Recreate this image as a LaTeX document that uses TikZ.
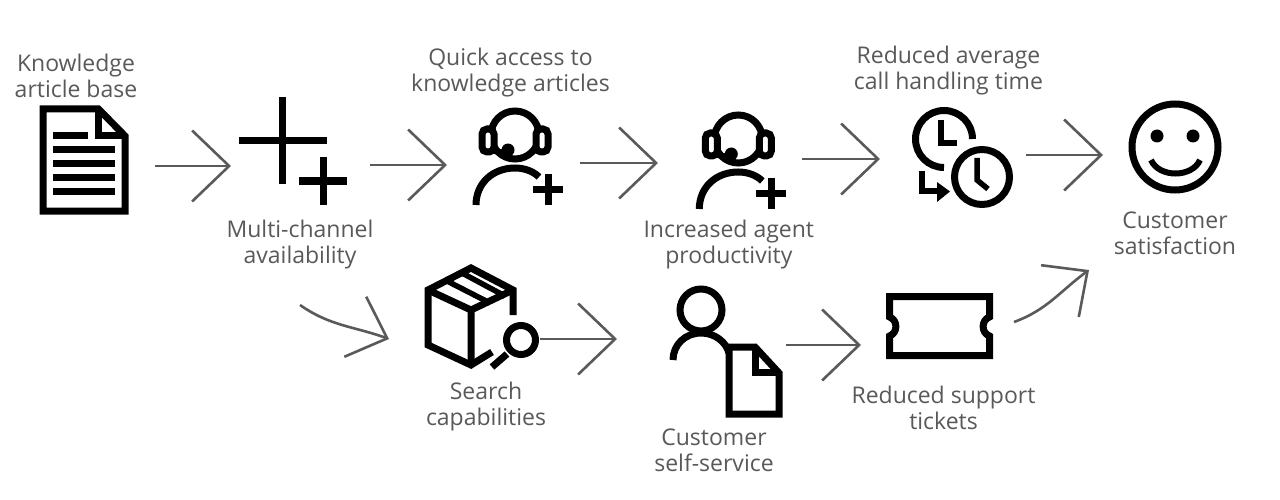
\documentclass[tikz,border=0pt]{standalone}
\usepackage{fontspec}
\setmainfont{Open Sans}
\usetikzlibrary{arrows.meta,positioning}

\definecolor{labelgray}{HTML}{595959}
\definecolor{flowgray}{HTML}{5A5A5A}

\tikzset{
  iconbox/.style={inner sep=0pt,outer sep=0pt,minimum width=#1},
  caption/.style={text=labelgray,align=center,inner sep=0pt,font=\fontsize{23}{26}\selectfont},
  flow/.style={draw=flowgray,line width=2.6pt,-{Straight Barb[length=37pt,width=71pt]}},
  bentflow/.style={draw=flowgray,line width=2.6pt,-{Straight Barb[length=34pt,width=64pt]}},
  glyph/.style={draw=black,line width=7pt,line cap=butt,line join=miter},
  agent/.pic={
    \draw[glyph] (515,135) circle[radius=24];
    \draw[glyph,fill=white,rounded corners=5pt] (482,129) rectangle (494,152);
    \draw[glyph,fill=white,rounded corners=5pt] (536,129) rectangle (548,152);
    \draw[glyph,line width=5pt] (492,152) -- (508,152);
    \fill (508,150) circle[radius=6.5];
    \draw[glyph] (476,205) .. controls (476,183) and (493,168) .. (515,168)
      .. controls (524,168) and (533,171) .. (539,177);
    \draw[glyph] (548,174) -- (548,205) (533,189) -- (563,189);
  }
}

\begin{document}
\begin{tikzpicture}[x=1pt,y=-1pt]
    \useasboundingbox (0,0) rectangle (1280,500);
    \fill[white] (0,0) rectangle (1280,500);

    % icon boxes
    \node [iconbox=88pt,minimum height=108pt] (docicon) at (84,160) {};
    \node [iconbox=108pt,minimum height=108pt] (plusicon) at (293,151) {};
    \node [iconbox=87pt,minimum height=97pt] (agenta) at (519.5,156.5) {};
    \node [iconbox=87pt,minimum height=97pt] (agentb) at (742.8,160.5) {};
    \node [iconbox=101pt,minimum height=100pt] (clockicon) at (962.5,158) {};
    \node [iconbox=92pt,minimum height=92pt] (smileicon) at (1175,147) {};
    \node [iconbox=114pt,minimum height=103pt] (boxicon) at (482,317) {};
    \node [iconbox=112pt,minimum height=131pt] (personicon) at (726,351.5) {};
    \node [iconbox=107pt,minimum height=66pt] (ticketicon) at (939.5,326) {};

    % labels
    \node [caption,above=8pt of docicon,xshift=-8pt] (doclabel) {Knowledge\\article base};
    \node [caption,below=14.5pt of plusicon,xshift=7pt] (pluslabel) {Multi-channel\\availability};
    \node [caption,above=11pt of agenta,xshift=-9pt] (agentalabel) {Quick access to\\knowledge articles};
    \node [caption,below=11pt of agentb,xshift=-14pt] (agentblabel) {Increased agent\\productivity};
    \node [caption,above=13pt of clockicon,xshift=-14pt] (clocklabel) {Reduced average\\call handling time};
    \node [caption,below=19pt of smileicon] (smilelabel) {Customer\\satisfaction};
    \node [caption,below=13pt of boxicon,xshift=4pt] (boxlabel) {Search\\capabilities};
    \node [caption,below=12pt of personicon,xshift=-12pt] (personlabel) {Customer\\self-service};
    \node [caption,below=27pt of ticketicon,xshift=4pt] (ticketlabel) {Reduced support\\tickets};

    % document
    \draw[glyph] (43,109) -- (98.5,109) -- (125,136) -- (125,211) -- (43,211) -- cycle;
    \draw[glyph] (98.5,109) -- (98.5,136) -- (125,136);
    \draw[glyph] (53,136) -- (88,136);
    \foreach \liney in {150,163.5,177.5,191}
      \draw[glyph] (53,\liney) -- (115,\liney);

    % plus signs
    \draw[glyph] (282.7,97) -- (282.7,184) (239,141) -- (327,141);
    \draw[glyph] (323,157) -- (323,205) (299,181) -- (347,181);

    % agents
    \pic at (0,0) {agent};
    \pic at (223.3,4) {agent};

    % clocks
    \draw[glyph] (972.5,139) arc (0:-270:28.5);
    \draw[glyph,line width=6pt] (941,120) -- (941,143) -- (957,143);
    \draw[glyph] (982,177) circle[radius=27.5];
    \draw[glyph,line width=5.5pt] (977,158) -- (977,180) -- (988,189);
    \draw[glyph,line width=5.5pt] (922,171) -- (922,191) -- (940,191);
    \fill (937,182) -- (950,191.5) -- (937,202) -- cycle;

    % smiley
    \draw[glyph] (1175,147) circle[radius=43];
    \fill (1157,136) circle[radius=6.5] (1193,136) circle[radius=6.5];
    \draw[glyph,line width=6pt] (1151,160) .. controls (1159,178) and (1192,178) .. (1200,160);

    % parcel and lens
    \draw[glyph] (513,315) -- (513,290) -- (471,268) -- (428,290) -- (428,345) -- (471,365) -- (492,352);
    \draw[glyph] (428,290) -- (471,310) -- (513,290) (471,310) -- (471,365);
    \draw[glyph,line width=5.5pt] (447,281) -- (490,303) (462,273) -- (505,296);
    \draw[glyph] (521,340) circle[radius=14.5];
    \draw[glyph] (507,354) -- (492,367);

    % person with sheet
    \draw[glyph] (701,310) circle[radius=21];
    \draw[glyph] (673,360) .. controls (673,345) and (685,333) .. (701,333)
      .. controls (715,333) and (726,342) .. (729,353);
    \draw[glyph,fill=white] (729,347) -- (755,347) -- (779,373) -- (779,414) -- (729,414) -- cycle;
    \draw[glyph] (755,347) -- (755,372) -- (779,372);

    % ticket
    \draw[glyph] (889.5,296.5) -- (989.5,296.5) -- (989.5,317)
      .. controls (981,320) and (981,333) .. (989.5,336) -- (989.5,355.5) -- (889.5,355.5) -- (889.5,336)
      .. controls (898,333) and (898,320) .. (889.5,317) -- cycle;

    % connectors
    \draw[flow] ([shift={(27,6)}]docicon.east) -- ([shift={(-8,15)}]plusicon.west);
    \draw[flow] ([shift={(23,14)}]plusicon.east) -- ([shift={(-29,8.5)}]agenta.west);
    \draw[flow] ([shift={(17,6.5)}]agenta.east) -- ([shift={(-41.3,2.5)}]agentb.west);
    \draw[flow] ([shift={(15.7,-1.5)}]agentb.east) -- ([shift={(-32,1)}]clockicon.west);
    \draw[flow] ([shift={(13,-3)}]clockicon.east) -- ([shift={(-26,8)}]smileicon.west);
    \draw[bentflow] ([shift={(7,100)}]plusicon.south) to[out=-35,in=160] ([shift={(-36,22)}]boxicon.west);
    \draw[flow] ([shift={(1,22)}]boxicon.east) -- ([shift={(-53,-12.5)}]personicon.west);
    \draw[flow] ([shift={(4,-6.5)}]personicon.east) -- ([shift={(-25,19)}]ticketicon.west);
    \draw[bentflow] ([shift={(21,-4)}]ticketicon.east) to[out=20,in=216] ([shift={(-86,77)}]smileicon.south);
  \end{tikzpicture}
\end{document}
